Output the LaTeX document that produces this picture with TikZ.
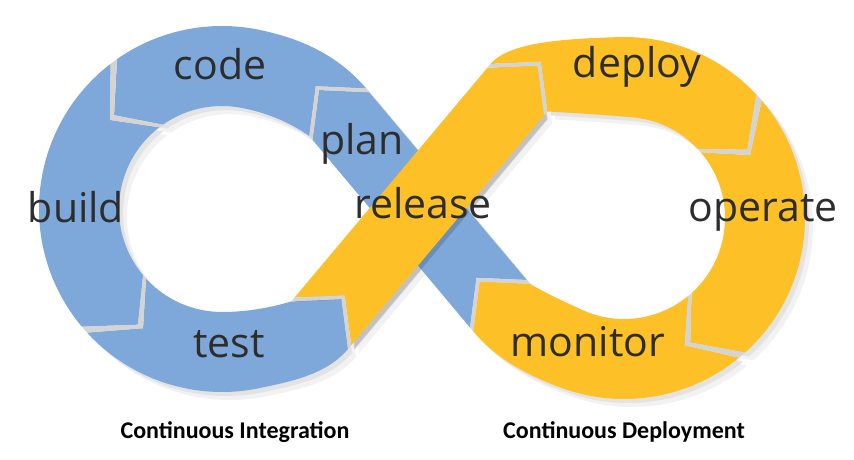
\documentclass[tikz,border=0pt]{standalone}
\usepackage{fontspec}
\setmainfont{Open Sans}
\newfontfamily\capfont{Carlito}
\usetikzlibrary{calc}
\definecolor{cblue}{RGB}{126,167,218}
\definecolor{cyellow}{RGB}{253,192,38}
\definecolor{ctext}{RGB}{45,45,45}
\tikzset{
  blueseg/.style={fill=cblue},
  yelseg/.style={fill=cyellow},
  gapseg/.style={fill=black!17},
  lbl/.style={text=ctext, anchor=base, font=\fontsize{41}{43}\selectfont, inner sep=0pt},
  caption/.style={text=black, anchor=base, font=\capfont\bfseries\fontsize{24}{26}\selectfont, inner sep=0pt}
}
% #1 = fill of blue pieces, #2 = fill of yellow pieces
\newcommand\drawpieces[2]{%
  % code
  \fill[#1] (phO2) .. controls ($(phO2)+(130:43)$) and ($(CL)+(78:183)+(-12:43)$) .. ($(CL)+(78:183)$)
     arc[start angle=78,end angle=125,radius=183] -- ($(CL)+(139:143)$) -- ($(CL)+(125:103)$)
     arc[start angle=125,end angle=80,radius=103]
     .. controls ($(CL)+(80:103)+(-10:25)$) and ($(phI2)+(145:25)$) .. (phI2) -- (phT2) -- cycle;
  % build
  \fill[#1] ($(CL)+(127.5:183)$) arc[start angle=127.5,end angle=220,radius=183] -- ($(CL)+(234:143)$)
     -- ($(CL)+(220:103)$) arc[start angle=220,end angle=127.5,radius=103] -- ($(CL)+(141.5:143)$) -- cycle;
  % test
  \fill[#1] ($(CL)+(222.5:183)$) arc[start angle=222.5,end angle=282,radius=183]
     .. controls ($(CL)+(282:183)+(12:33)$) and ($(rtO)+(230:33)$) .. (rtO) -- (rtT) -- (rtI)
     .. controls ($(rtI)+(197:23)$) and ($(CL)+(270:103)+(0:23)$) .. ($(CL)+(270:103)$)
     arc[start angle=270,end angle=222.5,radius=103] -- ($(CL)+(236.5:143)$) -- cycle;
  % plan
  \fill[#1] (ptO2) -- (ptT2) -- (ptI2) -- (phO) -- (phT) -- (phI) -- cycle;
  % deploy
  \fill[#2] (rhO2) .. controls ($(rhO2)+(50:30)$) and ($(CR)+(92:181)+(182:48)$) .. ($(CR)+(92:181)$)
     arc[start angle=92,end angle=43,radius=181] -- ($(CR)+(29:141)$) -- ($(CR)+(43:101)$)
     arc[start angle=43,end angle=85,radius=101]
     .. controls ($(CR)+(85:101)+(175:25)$) and ($(rhI2)+(-3:25)$) .. (rhI2) -- (rhT2) -- cycle;
  % operate
  \fill[#2] ($(CR)+(40.5:181)$) arc[start angle=40.5,end angle=-48,radius=181] -- ($(CR)+(-62:141)$)
     -- ($(CR)+(-48:101)$) arc[start angle=-48,end angle=40.5,radius=101] -- ($(CR)+(26.5:141)$) -- cycle;
  % monitor
  \fill[#2] ($(CR)+(-50.5:181)$) arc[start angle=-50.5,end angle=-110,radius=181]
     .. controls ($(CR)+(-110:181)+(160:36)$) and ($(ptO)+(-50:36)$) .. (ptO) -- (ptT) -- (ptI)
     .. controls ($(ptI)+(-30:22)$) and ($(CR)+(-115:101)+(155:22)$) .. ($(CR)+(-115:101)$)
     arc[start angle=-115,end angle=-50.5,radius=101] -- ($(CR)+(-64.5:141)$) -- cycle;
}
\newcommand\drawrelease[1]{%
  \fill[#1] (rtO2) -- (rtT2) -- (rtI2) -- (rhO) -- (rhT) -- (rhI) -- cycle;
}
\begin{document}
\begin{tikzpicture}[x=1pt,y=1pt]
\useasboundingbox (0,0) rectangle (854,460);
\coordinate (X) at (418,252);
\coordinate (CL) at (222,251);
\coordinate (CR) at (624,242);
% release tail joint (test -> release)
\coordinate (rtJ) at ($(X)+(230:153)$);
\coordinate (rtO) at ($(rtJ)+(-40:37)$);
\coordinate (rtI) at ($(rtJ)+(140:37)$);
\coordinate (rtT) at ($(rtJ)+(50:34)$);
\coordinate (rtO2) at ($(rtO)+(50:5)$);
\coordinate (rtI2) at ($(rtI)+(50:5)$);
\coordinate (rtT2) at ($(rtT)+(50:5)$);
% release head joint (release -> deploy)
\coordinate (rhJ) at ($(X)+(50:152)$);
\coordinate (rhO) at ($(rhJ)+(140:37)$);
\coordinate (rhI) at ($(rhJ)+(-40:37)$);
\coordinate (rhT) at ($(rhJ)+(50:34)$);
\coordinate (rhO2) at ($(rhO)+(50:5)$);
\coordinate (rhI2) at ($(rhI)+(50:5)$);
\coordinate (rhT2) at ($(rhT)+(50:5)$);
% plan tail joint (monitor -> plan)
\coordinate (ptJ) at ($(X)+(310:130)$);
\coordinate (ptO) at ($(ptJ)+(220:37)$);
\coordinate (ptI) at ($(ptJ)+(40:37)$);
\coordinate (ptT) at ($(ptJ)+(130:34)$);
\coordinate (ptO2) at ($(ptO)+(130:5)$);
\coordinate (ptI2) at ($(ptI)+(130:5)$);
\coordinate (ptT2) at ($(ptT)+(130:5)$);
% plan head joint (plan -> code)
\coordinate (phJ) at ($(X)+(130:120)$);
\coordinate (phO) at ($(phJ)+(40:37)$);
\coordinate (phI) at ($(phJ)+(220:37)$);
\coordinate (phT) at ($(phJ)+(130:34)$);
\coordinate (phO2) at ($(phO)+(130:5)$);
\coordinate (phI2) at ($(phI)+(130:5)$);
\coordinate (phT2) at ($(phT)+(130:5)$);
% soft shadows
\begin{scope}[transform canvas={shift={(8,-8)}}]
  \drawpieces{black!5}{black!5}\drawrelease{black!5}
\end{scope}
\begin{scope}[transform canvas={shift={(4,-4)}}]
  \drawpieces{black!11}{black!11}\drawrelease{black!11}
\end{scope}
% pieces
\drawpieces{blueseg}{yelseg}
\begin{scope}[transform canvas={shift={(3,-4)}}]
  \drawrelease{black, opacity=0.15}
\end{scope}
\drawrelease{yelseg}
% gaps
\fill[gapseg] ($(CL)+(125:183)$) -- ($(CL)+(139:143)$) -- ($(CL)+(125:103)$) -- ($(CL)+(127.5:103)$) -- ($(CL)+(141.5:143)$) -- ($(CL)+(127.5:183)$) -- cycle;
\fill[gapseg] ($(CL)+(220:183)$) -- ($(CL)+(234:143)$) -- ($(CL)+(220:103)$) -- ($(CL)+(222.5:103)$) -- ($(CL)+(236.5:143)$) -- ($(CL)+(222.5:183)$) -- cycle;
\fill[gapseg] ($(CR)+(43:181)$) -- ($(CR)+(29:141)$) -- ($(CR)+(43:101)$) -- ($(CR)+(40.5:101)$) -- ($(CR)+(26.5:141)$) -- ($(CR)+(40.5:181)$) -- cycle;
\fill[gapseg] ($(CR)+(-48:181)$) -- ($(CR)+(-62:141)$) -- ($(CR)+(-48:101)$) -- ($(CR)+(-50.5:101)$) -- ($(CR)+(-64.5:141)$) -- ($(CR)+(-50.5:181)$) -- cycle;
\fill[gapseg] (rtO) -- (rtT) -- (rtI) -- (rtI2) -- (rtT2) -- (rtO2) -- cycle;
\fill[gapseg] (rhO) -- (rhT) -- (rhI) -- (rhI2) -- (rhT2) -- (rhO2) -- cycle;
\fill[gapseg] (ptO) -- (ptT) -- (ptI) -- (ptI2) -- (ptT2) -- (ptO2) -- cycle;
\fill[gapseg] (phO) -- (phT) -- (phI) -- (phI2) -- (phT2) -- (phO2) -- cycle;
% labels
\node[lbl] (code) at (220,380) {code};
\node[lbl] (plan) at (362,305) {plan};
\node[lbl] (build) at (76,237) {build};
\node[lbl] (release) at (423,241) {release};
\node[lbl] (test) at (229,102) {test};
\node[lbl] (deploy) at (637,382) {deploy};
\node[lbl] (operate) at (763,238) {operate};
\node[lbl] (monitor) at (588,103) {monitor};
\node[caption] (ci) at (235,21) {Continuous Integration};
\node[caption] (cd) at (624,21) {Continuous Deployment};
\end{tikzpicture}
\end{document}
